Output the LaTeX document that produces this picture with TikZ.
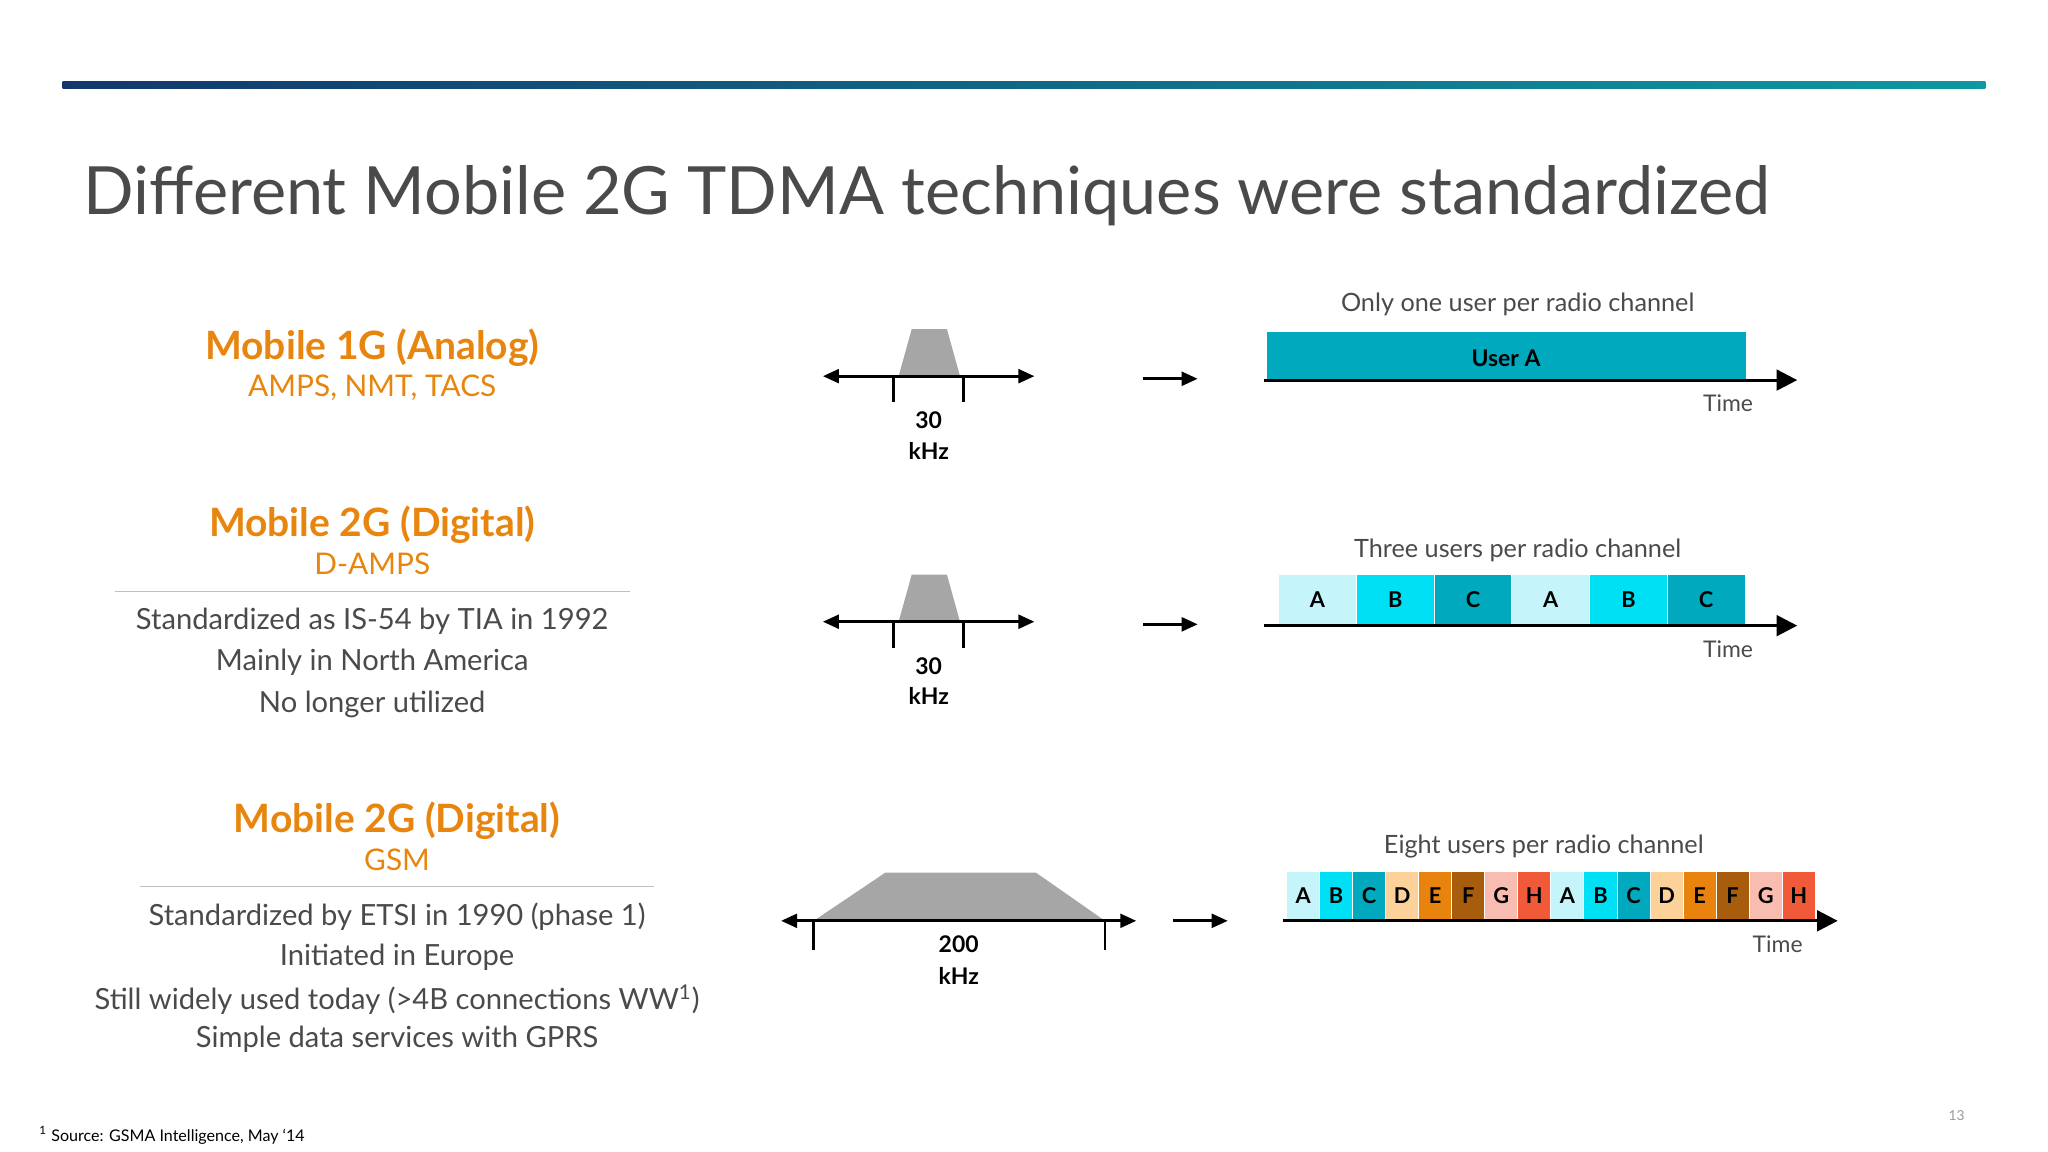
\documentclass[tikz,border=0pt]{standalone}
\usepackage{fontspec}
\setmainfont{Lato}
\usetikzlibrary{arrows.meta,positioning}
\definecolor{qorange}{HTML}{E8850E}
\definecolor{qgray}{HTML}{4A4A4A}
\definecolor{qnavy}{HTML}{12386B}
\definecolor{qteal}{HTML}{0E98A0}
\definecolor{uA}{HTML}{C5F5FA}
\definecolor{uB}{HTML}{00E0F5}
\definecolor{uC}{HTML}{00A9BD}
\definecolor{uD}{HTML}{FDD29A}
\definecolor{uE}{HTML}{E8840E}
\definecolor{uF}{HTML}{A85D0D}
\definecolor{uG}{HTML}{F8BCB0}
\definecolor{uH}{HTML}{F05A38}
\tikzstyle{header}=[text=qorange, font=\fontsize{17}{20}\selectfont\bfseries]
\tikzstyle{sub}=[text=qorange, font=\fontsize{13}{16}\selectfont]
\tikzstyle{body}=[text=qgray, font=\fontsize{12.7}{16}\selectfont]
\tikzstyle{small}=[text=black, font=\fontsize{10}{11}\selectfont\bfseries]
\tikzstyle{caption}=[text=qgray, font=\fontsize{11}{13}\selectfont]
\tikzstyle{axis}=[draw, line width=1.3pt]
\tikzstyle{slot}=[draw=white, line width=0.4pt, inner sep=0pt, font=\fontsize{9.5}{10}\selectfont\bfseries]
\tikzstyle{bump}=[fill=black!35]

\begin{document}
\begin{tikzpicture}[x=0.02cm, y=-0.02cm]
    \useasboundingbox (0,0) rectangle (1568,882);
    % top rule and title
    \shade[left color=qnavy, right color=qteal] (48,62.5) rectangle (1520,67.5);
    \node[anchor=west, text=qgray, font=\fontsize{29}{34}\selectfont] (title) at (58,150) {Different Mobile 2G TDMA techniques were standardized};

    % Left column
    \node[header] (h1) at (285,266) {Mobile 1G (Analog)};
    \node[sub] (s1) at (285,297) {AMPS, NMT, TACS};
    \node[header] (h2) at (285,402) {Mobile 2G (Digital)};
    \node[sub] (s2) at (285,432) {D-AMPS};
    \draw[black!25] (88,453) -- (482,453);
    \foreach \pos/\txt in {476/{Standardized as IS-54 by TIA in 1992}, 507/{Mainly in North America}, 539/{No longer utilized}}
        \node[body] at (285,\pos) {\txt};
    \node[header] (h3) at (304,628) {Mobile 2G (Digital)};
    \node[sub] (s3) at (304,658) {GSM};
    \draw[black!25] (107,679) -- (501,679);
    \foreach \pos/\txt in {702/{Standardized by ETSI in 1990 (phase 1)}, 733/{Initiated in Europe}, 765/{Still widely used today (>4B connections WW\textsuperscript{1})}, 796/{Simple data services with GPRS}}
        \node[body] at (304,\pos) {\txt};

    % Spectrum (30 kHz channels)
    \foreach \y in {288,476} {
        \fill[bump] (688,\y) -- (698,\y-36) -- (725,\y-36) -- (735,\y) -- cycle;
        \draw[axis, {Triangle[length=7pt,width=6pt]}-{Triangle[length=7pt,width=6pt]}] (630,\y) -- (792,\y);
        \draw[axis] (684,\y) -- (684,\y+20) (738,\y) -- (738,\y+20);
        \node[small] at (711,\y+34) {30};
        \node[small] at (711,\y+57) {kHz};
        \draw[axis, -{Triangle[length=7pt,width=6pt]}] (875,\y+2) -- (917,\y+2);
    }
    % Spectrum (200 kHz channel)
    \fill[bump] (623,705) -- (678,668) -- (793,668) -- (846,705) -- cycle;
    \draw[axis, {Triangle[length=7pt,width=6pt]}-{Triangle[length=7pt,width=6pt]}] (598,705) -- (870,705);
    \draw[axis] (623,705) -- (623,727) (846,705) -- (846,727);
    \node[small] at (734,723) {200};
    \node[small] at (734,747) {kHz};
    \draw[axis, -{Triangle[length=7pt,width=6pt]}] (898,705) -- (940,705);

    % Time slots: one user
    \node[caption] at (1162,233) {Only one user per radio channel};
    \fill[uC] (970,254) rectangle (1337,291);
    \node[small] (userA) at (1153,274) {User A};
    \draw[axis, -{Triangle[length=9pt,width=9pt]}] (968,291) -- (1376,291);
    \node[caption, font=\fontsize{10}{12}\selectfont] at (1323,309) {Time};

    % Time slots: three users
    \node[caption] at (1162,421) {Three users per radio channel};
    \foreach \i/\name in {0/A,1/B,2/C,3/A,4/B,5/C}
        \node[slot, fill=u\name, minimum width=59.5*0.02cm, minimum height=39*0.02cm] (t\i) at (979+29.75+59.5*\i,459) {\name};
    \draw[axis, -{Triangle[length=9pt,width=9pt]}] (968,479) -- (1376,479);
    \node[caption, font=\fontsize{10}{12}\selectfont] at (1323,497) {Time};

    % Time slots: eight users
    \node[caption] at (1182,648) {Eight users per radio channel};
    \foreach \i/\name in {0/A,1/B,2/C,3/D,4/E,5/F,6/G,7/H,8/A,9/B,10/C,11/D,12/E,13/F,14/G,15/H}
        \node[slot, fill=u\name, minimum width=25.3*0.02cm, minimum height=38*0.02cm] (g\i) at (985+12.65+25.3*\i,686) {\name};
    \draw[axis, -{Triangle[length=9pt,width=9pt]}] (982,705) -- (1407,705);
    \node[caption, font=\fontsize{10}{12}\selectfont] at (1361,723) {Time};

    % footnote and page number
    \node[anchor=west, font=\fontsize{7}{8}\selectfont] (src) at (24,869) {\textsuperscript{1} Source: GSMA Intelligence, May ‘14};
    \node[text=black!40, font=\fontsize{6}{7}\selectfont] (page) at (1498,854) {13};
\end{tikzpicture}
\end{document}
